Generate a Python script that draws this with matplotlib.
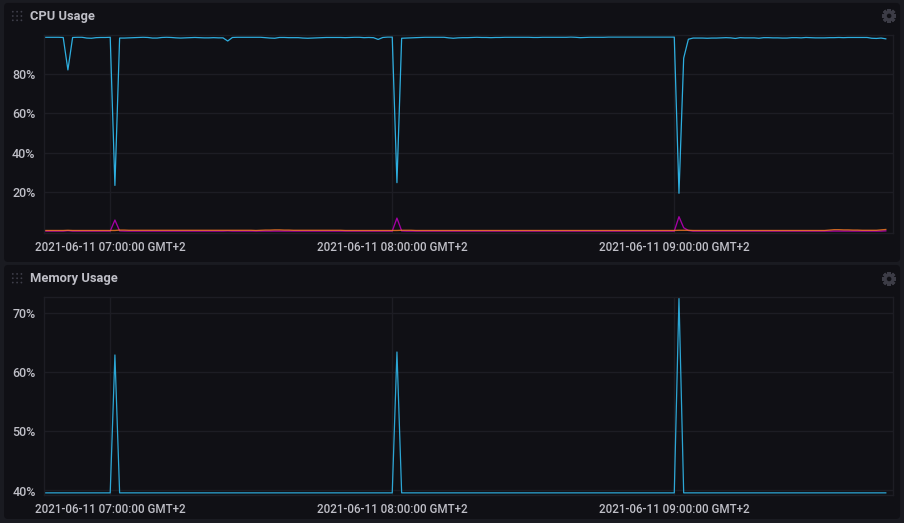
import matplotlib
matplotlib.use("Agg")
import matplotlib.pyplot as plt
from matplotlib.patches import FancyBboxPatch, Circle, Rectangle
import numpy as np

W, H = 904, 523
BG = "#1a1b21"
PANEL = "#101015"
GRID = "#1d1d24"
TEXT = "#bfbfc7"
CYAN = "#31C0F6"
MAGENTA = "#A500A5"
ORANGE = "#FF7E27"

minutes = list(range(-14, 166))
cpu_usage = [
    98.6, 98.6, 98.6, 98.6, 98.5, 82.0, 98.5, 98.6, 98.6, 98.2,
    98.1, 98.4, 98.5, 98.5, 98.6, 23.3, 98.2, 98.2, 98.3, 98.4,
    98.5, 98.6, 98.5, 98.2, 98.2, 98.5, 98.6, 98.5, 98.3, 98.2,
    98.3, 98.4, 98.5, 98.4, 98.3, 98.3, 98.4, 98.3, 98.3, 96.7,
    98.5, 98.6, 98.6, 98.6, 98.6, 98.6, 98.6, 98.4, 98.2, 98.1,
    98.5, 98.5, 98.4, 98.4, 98.4, 98.2, 98.1, 98.2, 98.3, 98.4,
    98.5, 98.5, 98.5, 98.5, 98.4, 98.5, 98.6, 98.6, 98.4, 98.5,
    98.4, 97.5, 98.5, 98.7, 98.7, 24.7, 98.1, 98.2, 98.3, 98.4,
    98.5, 98.6, 98.6, 98.6, 98.6, 98.6, 98.3, 98.1, 98.3, 98.4,
    98.4, 98.5, 98.6, 98.5, 98.5, 98.4, 98.5, 98.5, 98.6, 98.6,
    98.6, 98.6, 98.6, 98.6, 98.5, 98.5, 98.6, 98.6, 98.6, 98.6,
    98.6, 98.6, 98.7, 98.6, 98.4, 98.5, 98.6, 98.6, 98.6, 98.6,
    98.7, 98.7, 98.7, 98.7, 98.7, 98.7, 98.7, 98.7, 98.7, 98.7,
    98.7, 98.7, 98.7, 98.7, 98.7, 19.3, 88.0, 97.6, 98.2, 98.2,
    98.2, 98.1, 98.2, 98.2, 98.3, 98.4, 98.3, 98.0, 98.4, 98.3,
    98.3, 98.3, 98.1, 98.4, 98.4, 98.3, 98.3, 98.2, 98.2, 98.4,
    98.4, 98.3, 98.5, 98.4, 98.3, 98.3, 98.3, 98.4, 98.4, 98.5,
    98.4, 98.5, 98.5, 98.5, 98.5, 98.5, 98.1, 98.0, 98.2, 97.8,
]
cpu_magenta = [
    0.1, 0.1, 0.1, 0.1, 0.1, 0.3, 0.1, 0.1, 0.1, 0.1,
    0.1, 0.1, 0.1, 0.1, 0.1, 5.7, 0.2, 0.1, 0.1, 0.1,
    0.1, 0.1, 0.1, 0.1, 0.1, 0.1, 0.1, 0.1, 0.1, 0.1,
    0.1, 0.1, 0.1, 0.1, 0.1, 0.1, 0.1, 0.1, 0.1, 0.2,
    0.1, 0.1, 0.1, 0.1, 0.1, 0.1, 0.1, 0.1, 0.1, 0.1,
    0.1, 0.1, 0.1, 0.1, 0.1, 0.1, 0.1, 0.1, 0.1, 0.1,
    0.1, 0.1, 0.1, 0.1, 0.1, 0.1, 0.1, 0.1, 0.1, 0.1,
    0.1, 0.1, 0.1, 0.1, 0.1, 6.7, 0.2, 0.1, 0.1, 0.1,
    0.1, 0.1, 0.1, 0.1, 0.1, 0.1, 0.1, 0.1, 0.1, 0.1,
    0.1, 0.1, 0.1, 0.1, 0.1, 0.1, 0.1, 0.1, 0.1, 0.1,
    0.1, 0.1, 0.1, 0.1, 0.1, 0.1, 0.1, 0.1, 0.1, 0.1,
    0.1, 0.1, 0.1, 0.1, 0.1, 0.1, 0.1, 0.1, 0.1, 0.1,
    0.1, 0.1, 0.1, 0.1, 0.1, 0.1, 0.1, 0.1, 0.1, 0.1,
    0.1, 0.1, 0.1, 0.1, 0.1, 7.4, 1.8, 0.4, 0.1, 0.1,
    0.1, 0.1, 0.1, 0.1, 0.1, 0.1, 0.1, 0.1, 0.1, 0.1,
    0.1, 0.1, 0.1, 0.1, 0.1, 0.1, 0.1, 0.1, 0.1, 0.1,
    0.1, 0.1, 0.1, 0.1, 0.1, 0.1, 0.1, 0.1, 0.1, 0.1,
    0.1, 0.1, 0.1, 0.1, 0.1, 0.1, 0.1, 0.1, 0.1, 0.2,
]
cpu_orange = [
    0.4, 0.4, 0.4, 0.4, 0.4, 0.5, 0.4, 0.4, 0.4, 0.4,
    0.4, 0.4, 0.4, 0.4, 0.4, 0.4, 0.6, 0.6, 0.5, 0.5,
    0.5, 0.5, 0.5, 0.5, 0.5, 0.5, 0.5, 0.5, 0.5, 0.5,
    0.5, 0.5, 0.5, 0.5, 0.5, 0.5, 0.5, 0.5, 0.5, 0.5,
    0.5, 0.5, 0.5, 0.5, 0.5, 0.4, 0.5, 0.6, 0.6, 0.7,
    0.7, 0.6, 0.6, 0.5, 0.5, 0.5, 0.5, 0.5, 0.5, 0.5,
    0.5, 0.5, 0.5, 0.5, 0.4, 0.4, 0.4, 0.4, 0.4, 0.4,
    0.4, 0.4, 0.4, 0.4, 0.4, 0.4, 0.5, 0.5, 0.5, 0.4,
    0.4, 0.4, 0.4, 0.4, 0.4, 0.4, 0.4, 0.4, 0.4, 0.4,
    0.4, 0.4, 0.4, 0.4, 0.4, 0.4, 0.4, 0.4, 0.4, 0.4,
    0.4, 0.4, 0.4, 0.4, 0.4, 0.4, 0.4, 0.4, 0.4, 0.4,
    0.4, 0.4, 0.4, 0.4, 0.4, 0.4, 0.4, 0.4, 0.4, 0.4,
    0.4, 0.4, 0.4, 0.4, 0.4, 0.4, 0.4, 0.4, 0.4, 0.4,
    0.4, 0.4, 0.4, 0.4, 0.4, 0.5, 0.5, 0.5, 0.4, 0.4,
    0.4, 0.4, 0.4, 0.4, 0.4, 0.4, 0.4, 0.4, 0.4, 0.4,
    0.4, 0.4, 0.4, 0.4, 0.4, 0.4, 0.4, 0.4, 0.4, 0.4,
    0.4, 0.4, 0.4, 0.4, 0.4, 0.4, 0.4, 0.6, 0.8, 0.8,
    0.7, 0.7, 0.6, 0.6, 0.5, 0.5, 0.5, 0.5, 0.7, 0.9,
]
memory_usage = [
    39.6, 39.6, 39.6, 39.6, 39.6, 39.6, 39.6, 39.6, 39.6, 39.6,
    39.6, 39.6, 39.6, 39.6, 39.6, 62.9, 39.6, 39.6, 39.6, 39.6,
    39.6, 39.6, 39.6, 39.6, 39.6, 39.6, 39.6, 39.6, 39.6, 39.6,
    39.6, 39.6, 39.6, 39.6, 39.6, 39.6, 39.6, 39.6, 39.6, 39.6,
    39.6, 39.6, 39.6, 39.6, 39.6, 39.6, 39.6, 39.6, 39.6, 39.6,
    39.6, 39.6, 39.6, 39.6, 39.6, 39.6, 39.6, 39.6, 39.6, 39.6,
    39.6, 39.6, 39.6, 39.6, 39.6, 39.6, 39.6, 39.6, 39.6, 39.6,
    39.6, 39.6, 39.6, 39.6, 39.6, 63.4, 39.6, 39.6, 39.6, 39.6,
    39.6, 39.6, 39.6, 39.6, 39.6, 39.6, 39.6, 39.6, 39.6, 39.6,
    39.6, 39.6, 39.6, 39.6, 39.6, 39.6, 39.6, 39.6, 39.6, 39.6,
    39.6, 39.6, 39.6, 39.6, 39.6, 39.6, 39.6, 39.6, 39.6, 39.6,
    39.6, 39.6, 39.6, 39.6, 39.6, 39.6, 39.6, 39.6, 39.6, 39.6,
    39.6, 39.6, 39.6, 39.6, 39.6, 39.6, 39.6, 39.6, 39.6, 39.6,
    39.6, 39.6, 39.6, 39.6, 39.6, 72.5, 39.6, 39.6, 39.6, 39.6,
    39.6, 39.6, 39.6, 39.6, 39.6, 39.6, 39.6, 39.6, 39.6, 39.6,
    39.6, 39.6, 39.6, 39.6, 39.6, 39.6, 39.6, 39.6, 39.6, 39.6,
    39.6, 39.6, 39.6, 39.6, 39.6, 39.6, 39.6, 39.6, 39.6, 39.6,
    39.6, 39.6, 39.6, 39.6, 39.6, 39.6, 39.6, 39.6, 39.6, 39.6,
]
hour_ticks = [0, 60, 120]
hour_labels = ["2021-06-11 07:00:00 GMT+2", "2021-06-11 08:00:00 GMT+2", "2021-06-11 09:00:00 GMT+2"]
cpu_ticks = [20, 40, 60, 80]
mem_ticks = [40, 50, 60, 70]

plt.rcParams["font.family"] = ["Roboto", "DejaVu Sans"]
fig = plt.figure(figsize=((W + 0.1) / 100, (H + 0.1) / 100), dpi=100, facecolor=BG)

deco = fig.add_axes([0, 0, 1, 1], zorder=0)
deco.set_xlim(0, W)
deco.set_ylim(H, 0)
deco.axis("off")


def panel(x0, y0, x1, y1):
    deco.add_patch(FancyBboxPatch((x0 + 4, y0 + 4), x1 - x0 - 8, y1 - y0 - 8,
                                  boxstyle="round,pad=4,rounding_size=4",
                                  fc=PANEL, ec="none"))


def gear(cx, cy, r=5.2, c="#3c3c46"):
    angles = [i * 45 for i in range(8)]
    for a in angles:
        deco.add_patch(Rectangle((cx - 1.7, cy - r - 2), 3.4, 2 * r + 4, angle=a,
                                 rotation_point=(cx, cy), fc=c, ec="none"))
    deco.add_patch(Circle((cx, cy), r, fc=c, ec="none"))
    deco.add_patch(Circle((cx, cy), 2.3, fc=PANEL, ec="none"))


def grip(x0, y0):
    for i in range(3):
        for j in range(3):
            deco.add_patch(Circle((x0 + 4.3 * i, y0 + 4.3 * j), 0.9, fc="#3f3f4a", ec="none"))


panel(4, 3, 900, 262)
panel(4, 265, 900, 519)
gear(889, 16)
gear(889, 279)
grip(12.8, 11.8)
grip(12.8, 274)
fig.text(30 / W, 1 - 16.8 / H, "CPU Usage", color=TEXT, fontsize=9.25, fontweight="bold", va="center", ha="left")
fig.text(30 / W, 1 - 278.8 / H, "Memory Usage", color=TEXT, fontsize=9.25, fontweight="bold", va="center", ha="left")


def make_axes(x0, y0, x1, y1):
    ax = fig.add_axes([x0 / W, 1 - y1 / H, (x1 - x0) / W, (y1 - y0) / H], zorder=1)
    ax.patch.set_alpha(0)
    for s in ax.spines.values():
        s.set_color(GRID)
        s.set_linewidth(1)
    ax.grid(True, color=GRID, linewidth=1)
    ax.set_axisbelow(True)
    ax.tick_params(length=0, colors=TEXT, pad=6)
    ax.set_xticks(hour_ticks)
    ax.set_xticklabels(hour_labels, fontsize=8.4, fontweight="medium")
    ax.set_xlim((x0 - 110.2) / 4.7, (x1 - 110.2) / 4.7)
    return ax


pct = lambda vals: [f"{v}%" for v in vals]

ax1 = make_axes(43.7, 35, 893.3, 232.7)
ax1.set_ylim(-0.7, 99.8)
ax1.set_yticks(cpu_ticks)
ax1.set_yticklabels(pct(cpu_ticks), fontsize=9, fontweight="medium")
ax1.plot(minutes, cpu_usage, color=CYAN, lw=0.9, alpha=0.9)
ax1.plot(minutes, cpu_magenta, color=MAGENTA, lw=0.95)
ax1.plot(minutes, cpu_orange, color=ORANGE, lw=0.95, alpha=0.8)

ax2 = make_axes(44.2, 297, 893.3, 495)
ax2.set_ylim(39.24, 72.7)
ax2.set_yticks(mem_ticks)
ax2.set_yticklabels(pct(mem_ticks), fontsize=9, fontweight="medium")
ax2.plot(minutes, memory_usage, color=CYAN, lw=0.9, alpha=0.85)

fig.savefig("out.png", dpi=100, facecolor=BG)
